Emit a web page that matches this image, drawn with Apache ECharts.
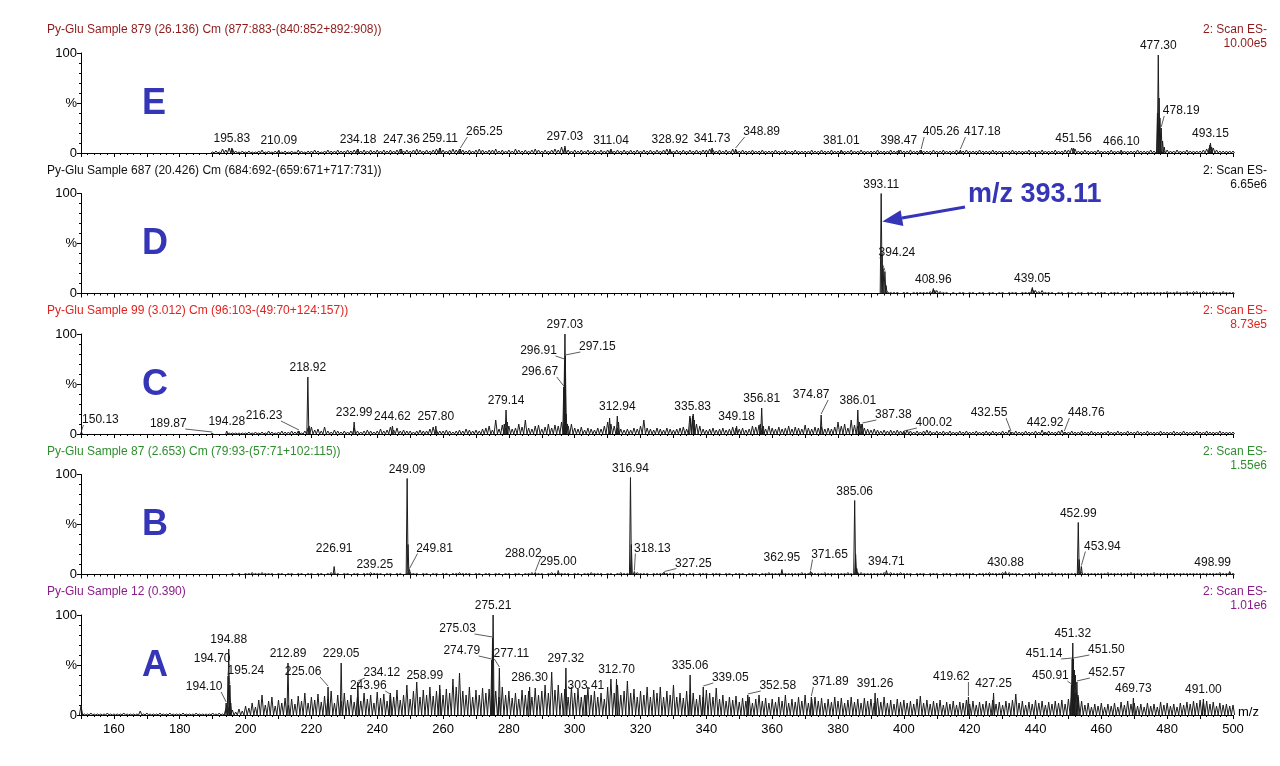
<!DOCTYPE html>
<html><head><meta charset="utf-8">
<script src="https://cdn.jsdelivr.net/npm/echarts@6/dist/echarts.min.js"></script>
<style>html,body{margin:0;padding:0;background:#fff}#c{width:1280px;height:766px}</style>
</head><body><div id="c"></div>
<script>
// ---------------- DATA ----------------
const panelLetters = ['E', 'D', 'C', 'B', 'A'];
const panelTitles = [
  'Py-Glu Sample 879 (26.136) Cm (877:883-(840:852+892:908))',
  'Py-Glu Sample 687 (20.426) Cm (684:692-(659:671+717:731))',
  'Py-Glu Sample 99 (3.012) Cm (96:103-(49:70+124:157))',
  'Py-Glu Sample 87 (2.653) Cm (79:93-(57:71+102:115))',
  'Py-Glu Sample 12 (0.390)'
];
const scanLabels = ['10.00e5', '6.65e6', '8.73e5', '1.55e6', '1.01e6'];
const xTickLabels = [160, 180, 200, 220, 240, 260, 280, 300, 320, 340, 360, 380, 400, 420, 440, 460, 480, 500];

// labelled peaks [m/z, % intensity]
const labeledE = [[195.83,5],[210.09,3],[234.18,4],[247.36,4],[259.11,5],[265.25,4],[297.03,7],[311.04,3],[328.92,4],[341.73,5],[348.89,4],[381.01,3],[398.47,3],[405.26,3],[417.18,3],[451.56,5],[466.10,2],[477.30,98],[478.19,25],[493.15,10]];
const extraE = [[477.05,40],[477.55,55],[477.8,35],[478.6,12],[479.1,6],[492.8,5],[493.5,6]];
const noiseStartE = 190;
const noiseE = [1,2,1,4,3,5,4,2,1,2, 1,2,1,1,2,3,1,2,1,2, 2,1,2,1,2,1,3,2,1,2, 2,3,2,1,2,3,2,2,3,2,
  2,3,2,3,4,2,3,2,3,2, 3,2,3,2,3,2,3,4,2,3, 2,3,4,3,2,3,2,3,4,5, 3,2,3,4,3,4,3,2,3,2,
  3,4,3,2,3,3,4,2,3,2, 3,2,4,3,2,3,2,3,4,3, 2,3,2,3,4,3,6,5,3,2, 3,2,3,2,3,2,3,2,3,2,
  3,4,2,3,2,3,2,3,2,3, 2,3,2,3,2,3,2,3,4,3, 2,3,2,3,2,3,2,3,2,3, 3,4,3,2,3,2,3,2,4,3,
  2,3,2,2,3,2,2,3,2,2, 2,3,2,2,3,2,2,3,2,2, 2,2,3,2,2,3,2,2,3,2, 2,3,2,2,3,2,2,3,2,2,
  2,2,3,2,2,2,3,2,2,3, 2,2,3,2,2,3,2,2,2,3, 2,2,3,2,2,2,3,2,2,3, 2,2,2,3,2,2,2,3,2,2,
  2,2,2,3,2,2,2,2,3,2, 2,2,3,2,2,2,3,2,2,3, 3,5,4,2,2,3,2,2,2,3, 2,2,2,3,2,2,3,2,2,2,
  2,3,2,2,2,3,2,2,2,2, 3,2,2,3,2,2,3,2,2,2, 2,3,4,8,5,3,2,2,2,2, 2];

const labeledD = [[393.11,100],[394.24,22],[408.96,5],[439.05,6]];
const extraD = [[393.4,40],[393.7,25],[394.6,8],[409.4,3],[439.5,3]];
const noiseStartD = 395;
const noiseD = [2,1,1,1,0,1,1,0,1,1, 1,1,1,2,4,3,2,1,1,0, 1,0,1,1,0,1,1,0,1,1, 0,1,1,0,1,1,0,1,1,1,
  0,1,1,1,5,3,2,3,1,1, 1,0,1,1,0,1,1,0,1,1, 0,1,1,0,1,1,1,0,1,1, 1,0,1,1,1,0,1,1,1,1,
  1,1,1,1,1,2,1,1,2,1, 1,2,1,2,2,1,2,1,1,2, 1,1,2,1,1,1];

const labeledC = [[150.13,2],[189.87,1],[194.28,3],[216.23,3],[218.92,57],[232.99,12],[244.62,8],[257.80,8],[279.14,24],[296.67,47],[296.91,74],[297.03,100],[297.15,78],[312.94,18],[335.83,18],[349.18,8],[356.81,26],[374.87,19],[386.01,24],[387.38,10],[400.02,2],[432.55,2],[442.92,2],[448.76,2]];
const extraC = [[219.3,8],[297.4,20],[297.8,10],[310.6,16],[313.3,12],[335.2,16],[336.3,14],[356.4,10],[357.3,8],[386.5,12],[279.5,12],[278.6,10]];
const noiseStartC = 195;
const noiseC = [1,1,1,1,1, 1,2,1,2,1,2,1,3,2,1, 2,3,2,2,3,2,3,1,3,6, 7,4,5,3,7,3,2,4,3,2, 3,2,3,6,3,2,3,4,3,2,
  3,5,3,4,7,4,6,3,4,3, 3,2,3,4,3,3,5,7,4,3, 3,4,3,2,3,4,3,5,4,3, 4,3,5,6,8,4,14,5,9,6,
  8,5,6,10,7,14,6,5,8,9, 5,7,10,6,9,8,12,10,8,10, 6,5,7,4,6,5,4,6,5,8, 12,10,8,6,5,4,5,4,6,5,
  8,14,6,5,4,6,5,4,6,5, 4,5,6,7,5,18,20,10,8,5, 4,5,6,4,5,6,4,5,7,6, 5,6,4,5,8,7,9,6,5,8,
  6,5,7,5,6,8,5,7,6,5, 9,6,5,7,6,7,5,6,5,7, 12,8,10,6,14,9,8,10,6,5, 4,5,4,3,4,3,4,3,4,3,
  3,4,3,2,3,2,3,4,3,2, 3,2,3,2,3,2,2,3,2,3, 2,2,3,2,2,3,2,3,2,2, 3,2,4,2,3,2,2,3,2,2,
  3,2,4,2,3,2,2,3,4,2, 2,3,2,2,3,2,2,3,2,2, 2,2,3,2,2,3,2,2,3,2, 2,3,2,2,3,2,2,2,3,2,
  2,2,3,2,2,3,2,2,2,3, 2,2,3,2,2,2,3,2,2,2, 2];

const labeledB = [[226.91,8],[239.25,1],[249.09,96],[249.81,5],[288.02,2],[295.00,4],[316.94,97],[318.13,3],[327.25,2],[362.95,5],[371.65,3],[385.06,74],[394.71,4],[430.88,3],[452.99,52],[453.94,8],[498.99,3]];
const extraB = [[249.35,30],[317.2,30],[385.35,20],[385.7,6],[453.25,15]];
const noiseStartB = 195;
const noiseB = [0,1,0,1,0, 1,1,2,1,1,2,1,1,1,0, 1,1,0,1,1,0,1,1,0,1, 1,0,1,1,0,1,2,1,1,0, 1,1,0,1,1,0,1,1,2,1,
  1,1,0,1,1,0,1,1,0,1, 2,1,1,0,1,1,0,1,1,0, 1,1,0,1,1,2,1,1,1,0, 1,1,0,1,1,0,1,1,0,1,
  1,0,1,1,0,1,1,2,1,1, 1,0,1,2,1,1,1,1,1,0, 1,1,0,1,1,2,1,1,1,0, 1,1,0,1,2,1,1,1,1,2,
  1,1,1,0,1,1,1,2,1,1, 1,0,1,1,0,1,1,0,1,1, 1,0,1,1,1,0,1,1,0,1, 1,1,0,1,1,1,0,1,1,2,
  1,1,1,2,1,1,1,1,1,2, 1,1,2,1,1,1,2,1,1,1, 1,1,1,2,1,1,2,2,1,1, 1,1,1,1,2,1,2,1,1,2,
  1,1,1,0,1,1,1,0,1,1, 1,0,1,1,1,0,1,1,1,1, 1,1,0,1,1,1,2,1,1,1, 2,1,2,1,1,1,0,1,1,1,
  1,2,1,1,1,2,1,1,1,1, 1,1,1,2,2,1,1,1,1,1, 1,1,2,1,1,1,1,1,1,2, 1,1,1,1,1,1,2,1,1,1,
  1,1,1,1,1,1,1,1,1,1, 1,1,1,1,1,1,2,1,1,2, 1];

const labeledA = [[194.10,12],[194.70,39],[194.88,66],[195.24,30],[212.89,52],[225.06,28],[229.05,52],[234.12,33],[243.96,20],[258.99,30],[274.79,55],[275.03,77],[275.21,100],[277.11,47],[286.30,28],[297.32,47],[303.41,20],[312.70,36],[335.06,40],[339.05,28],[352.58,20],[371.89,18],[391.26,22],[419.62,18],[427.25,22],[450.91,30],[451.14,56],[451.32,72],[451.50,56],[452.57,33],[469.73,17],[491.00,16]];
const extraA = [[451.8,45],[452.1,40],[452.9,20],[195.5,12]];
const noiseStartA = 150;
const noiseA = [9,1,1,2,1,1,1,1,2,1, 1,1,1,2,1,1,1,1,4,1, 2,1,1,1,2,1,1,2,1,1, 1,2,1,1,1,2,1,1,1,1,
  2,1,2,1,6,8,5,3,6,4, 9,7,12,8,15,20,10,14,18,9, 15,12,17,10,16,11,19,14,22,12, 18,15,21,13,19,16,24,12,20,14,
  22,15,20,13,18,14,22,16,20,12, 23,17,21,14,22,18,25,15,20,30, 16,24,33,18,25,20,28,19,24,26, 20,26,22,36,28,42,24,20,28,18,
  25,20,27,22,26,20,24,18,28,20, 24,17,22,16,25,20,24,18,27,20, 24,30,22,43,25,30,22,26,18,28, 22,26,18,20,28,20,24,18,22,16,
  28,36,22,30,20,24,34,22,26,18, 24,20,28,18,25,22,28,18,24,20, 30,18,22,17,24,20,22,16,20,18, 25,22,18,27,16,20,14,18,15,19,
  13,17,14,18,12,16,20,14,17,12, 16,13,18,14,20,12,16,13,18,14, 20,12,16,18,14,17,12,16,13,18, 14,17,12,15,18,13,16,12,17,14,
  16,12,17,13,18,12,15,11,16,13, 15,12,14,11,16,19,12,15,11,14, 12,15,10,13,11,14,10,13,12,15, 11,14,10,13,11,14,12,15,11,13,
  10,14,12,15,21,12,14,10,13,11, 15,12,14,10,13,11,14,12,15,11, 16,20,22,18,14,10,12,8,11,9, 12,8,11,9,12,8,13,10,14,11,
  12,9,11,8,12,9,11,8,13,10, 12,9,11,8,12,10,13,11,14,12, 15,13,14,11,13,9,12,10,11,9, 10];

// ---------------- LAYOUT / STYLE ----------------
// [dx, dy, leader]
const labelShift = [
  {'265.25':[24,-8,1],'348.89':[26,-8,1],'405.26':[20,-9,1],'417.18':[22,-9,1],'478.19':[20,-8,1]},
  {'394.24':[12,-10,1]},
  {'150.13':[19,-3,1],'189.87':[-44,0,1],'216.23':[-35,-6,1],'296.67':[-24,-6,1],'296.91':[-26,0,1],'297.15':[32,0,1],'374.87':[-10,-11,1],'387.38':[31,0,1],'400.02':[30,0,1],'432.55':[-22,-10,1],'448.76':[22,-10,1]},
  {'226.91':[0,-9,0],'249.81':[25,-12,1],'288.02':[-12,-10,1],'318.13':[18,-14,1],'327.25':[29,0,1],'362.95':[0,-3,0],'371.65':[19,-8,1],'453.94':[21,-11,1],'498.99':[-17,0,0]},
  {'194.10':[-22,-7,1],'194.70':[-16,-8,1],'195.24':[16,-5,1],'225.06':[-25,-6,1],'234.12':[24,0,1],'243.96':[-22,0,1],'258.99':[-15,0,0],'274.79':[-30,0,1],'275.03':[-35,0,1],'277.11':[12,-5,1],'339.05':[27,0,1],'352.58':[30,0,1],'371.89':[19,-6,1],'419.62':[-17,-11,1],'450.91':[-21,0,1],'451.14':[-28,4,1],'451.50':[33,0,1],'452.57':[30,0,1]}
];
const titleColors = ['#8e1b1b', '#111111', '#e0231f', '#2f8f2f', '#8a1c8a'];
const GRID_LEFT = 81, GRID_RIGHT = 47, GRID_H = 100;
const gridTops = [53, 193.5, 334, 474.5, 615];
const PEAK_HALF_W = 0.3, NOISE_HALF_W = 0.5;
const FONT = '"Liberation Sans", Arial, Helvetica, sans-serif';

function noiseItems(start, vals) { return vals.map((v, i) => [start + i, v, 1]); }
function peakItems(list) { return list.map(d => [d[0], d[1], 0]); }
const panels = [
  { labeled: labeledE, extra: extraE, noise: noiseItems(noiseStartE, noiseE) },
  { labeled: labeledD, extra: extraD, noise: noiseItems(noiseStartD, noiseD) },
  { labeled: labeledC, extra: extraC, noise: noiseItems(noiseStartC, noiseC) },
  { labeled: labeledB, extra: extraB, noise: noiseItems(noiseStartB, noiseB) },
  { labeled: labeledA, extra: extraA, noise: noiseItems(noiseStartA, noiseA) }
];

const chart = echarts.init(document.getElementById('c'), null, { renderer: 'canvas' });

const grids = [], xAxes = [], yAxes = [], series = [], graphics = [];
panels.forEach((p, i) => {
  grids.push({ left: GRID_LEFT, right: GRID_RIGHT, top: gridTops[i], height: GRID_H, containLabel: false });
  const last = i === panels.length - 1;
  xAxes.push({
    type: 'value', gridIndex: i, min: 150, max: 500, interval: 10,
    axisLine: { show: true, onZero: false, lineStyle: { color: '#000', width: 1 } },
    axisTick: { show: true, length: 4, lineStyle: { color: '#000' } },
    minorTick: { show: true, splitNumber: 5, length: 2, lineStyle: { color: '#000' } },
    splitLine: { show: false },
    axisLabel: {
      show: last, color: '#000', fontSize: 13, fontFamily: FONT, margin: 8,
      formatter: v => (xTickLabels.indexOf(v) >= 0 ? String(v) : '')
    }
  });
  yAxes.push({
    type: 'value', gridIndex: i, min: 0, max: 100, interval: 50,
    axisLine: { show: true, lineStyle: { color: '#000', width: 1 } },
    axisTick: { show: true, length: 4, lineStyle: { color: '#000' } },
    minorTick: { show: true, splitNumber: 5, length: 2, lineStyle: { color: '#000' } },
    splitLine: { show: false },
    axisLabel: { color: '#000', fontSize: 13, fontFamily: FONT, margin: 4,
      formatter: v => (v === 50 ? '%' : String(v)) }
  });
  const spectrum = p.noise.concat(peakItems(p.extra), peakItems(p.labeled)).sort((a, b) => a[0] - b[0]);
  series.push({
    type: 'custom', xAxisIndex: i, yAxisIndex: i, data: spectrum, silent: true, clip: false,
    renderItem: (params, api) => {
      const x = api.value(0), h = api.value(1);
      const w = api.value(2) ? NOISE_HALF_W : PEAK_HALF_W;
      const a = api.coord([x - w, 0]), b = api.coord([x, h]), c = api.coord([x + w, 0]);
      return { type: 'polyline', shape: { points: [a, b, c] }, style: { stroke: '#1c1c1c', lineWidth: 1, fill: null } };
    }
  });
  const shifts = labelShift[i];
  series.push({
    type: 'custom', xAxisIndex: i, yAxisIndex: i, data: p.labeled, silent: true, clip: false, z: 5,
    renderItem: (params, api) => {
      const mz = api.value(0), h = api.value(1);
      const txt = mz.toFixed(2);
      const pt = api.coord([mz, h]);
      const off = shifts[txt] || [0, 0, 0];
      const tx = pt[0] + off[0], ty = pt[1] - 3 + off[1];
      const children = [{
        type: 'text', x: tx, y: ty,
        style: { text: txt, textAlign: 'center', textVerticalAlign: 'bottom', align: 'center', verticalAlign: 'bottom', font: '12px ' + FONT, fill: '#111' }
      }];
      if (off[2]) {
        const sx = Math.abs(off[0]) > 4 ? tx - Math.sign(off[0]) * 17 : tx;
        children.push({ type: 'line', shape: { x1: pt[0], y1: pt[1] - 1, x2: sx, y2: ty - 1 }, style: { stroke: '#333', lineWidth: 0.8 } });
      }
      return { type: 'group', children };
    }
  });
  const top = gridTops[i];
  graphics.push({ type: 'text', left: 47, top: top - 29, style: { text: panelTitles[i], font: '12px ' + FONT, fill: titleColors[i] } });
  graphics.push({ type: 'text', right: 13, top: top - 29, style: { text: '2: Scan ES-', font: '12px ' + FONT, fill: titleColors[i], textAlign: 'right' } });
  graphics.push({ type: 'text', right: 13, top: top - 15, style: { text: scanLabels[i], font: '12px ' + FONT, fill: titleColors[i], textAlign: 'right' } });
  graphics.push({ type: 'text', left: 142, top: top + 33, style: { text: panelLetters[i], font: 'bold 36px ' + FONT, fill: '#3535b8' } });
});
graphics.push({ type: 'text', left: 1238, top: 706, style: { text: 'm/z', font: '13px ' + FONT, fill: '#000' } });
graphics.push({ type: 'text', left: 968, top: 181, style: { text: 'm/z 393.11', font: 'bold 27px ' + FONT, fill: '#3535b8' } });

chart.setOption({
  animation: false,
  backgroundColor: '#fff',
  grid: grids, xAxis: xAxes, yAxis: yAxes, series: series, graphic: graphics
});

// arrow from annotation text to the 393.11 peak (tip located via the axis scale)
const tip = chart.convertToPixel({ gridIndex: 1 }, [393.45, 72]);
const tail = [965, 207];
const dx = tip[0] - tail[0], dy = tip[1] - tail[1];
const len = Math.sqrt(dx * dx + dy * dy), ux = dx / len, uy = dy / len;
const headL = 20, headW = 8;
const bx = tip[0] - ux * headL, by = tip[1] - uy * headL;
graphics.push({ type: 'line', shape: { x1: tail[0], y1: tail[1], x2: bx, y2: by }, style: { stroke: '#3535b8', lineWidth: 3 } });
graphics.push({ type: 'polygon', shape: { points: [tip, [bx - uy * headW, by + ux * headW], [bx + uy * headW, by - ux * headW]] }, style: { fill: '#3535b8' } });
chart.setOption({ graphic: graphics });
</script>
</body></html>
